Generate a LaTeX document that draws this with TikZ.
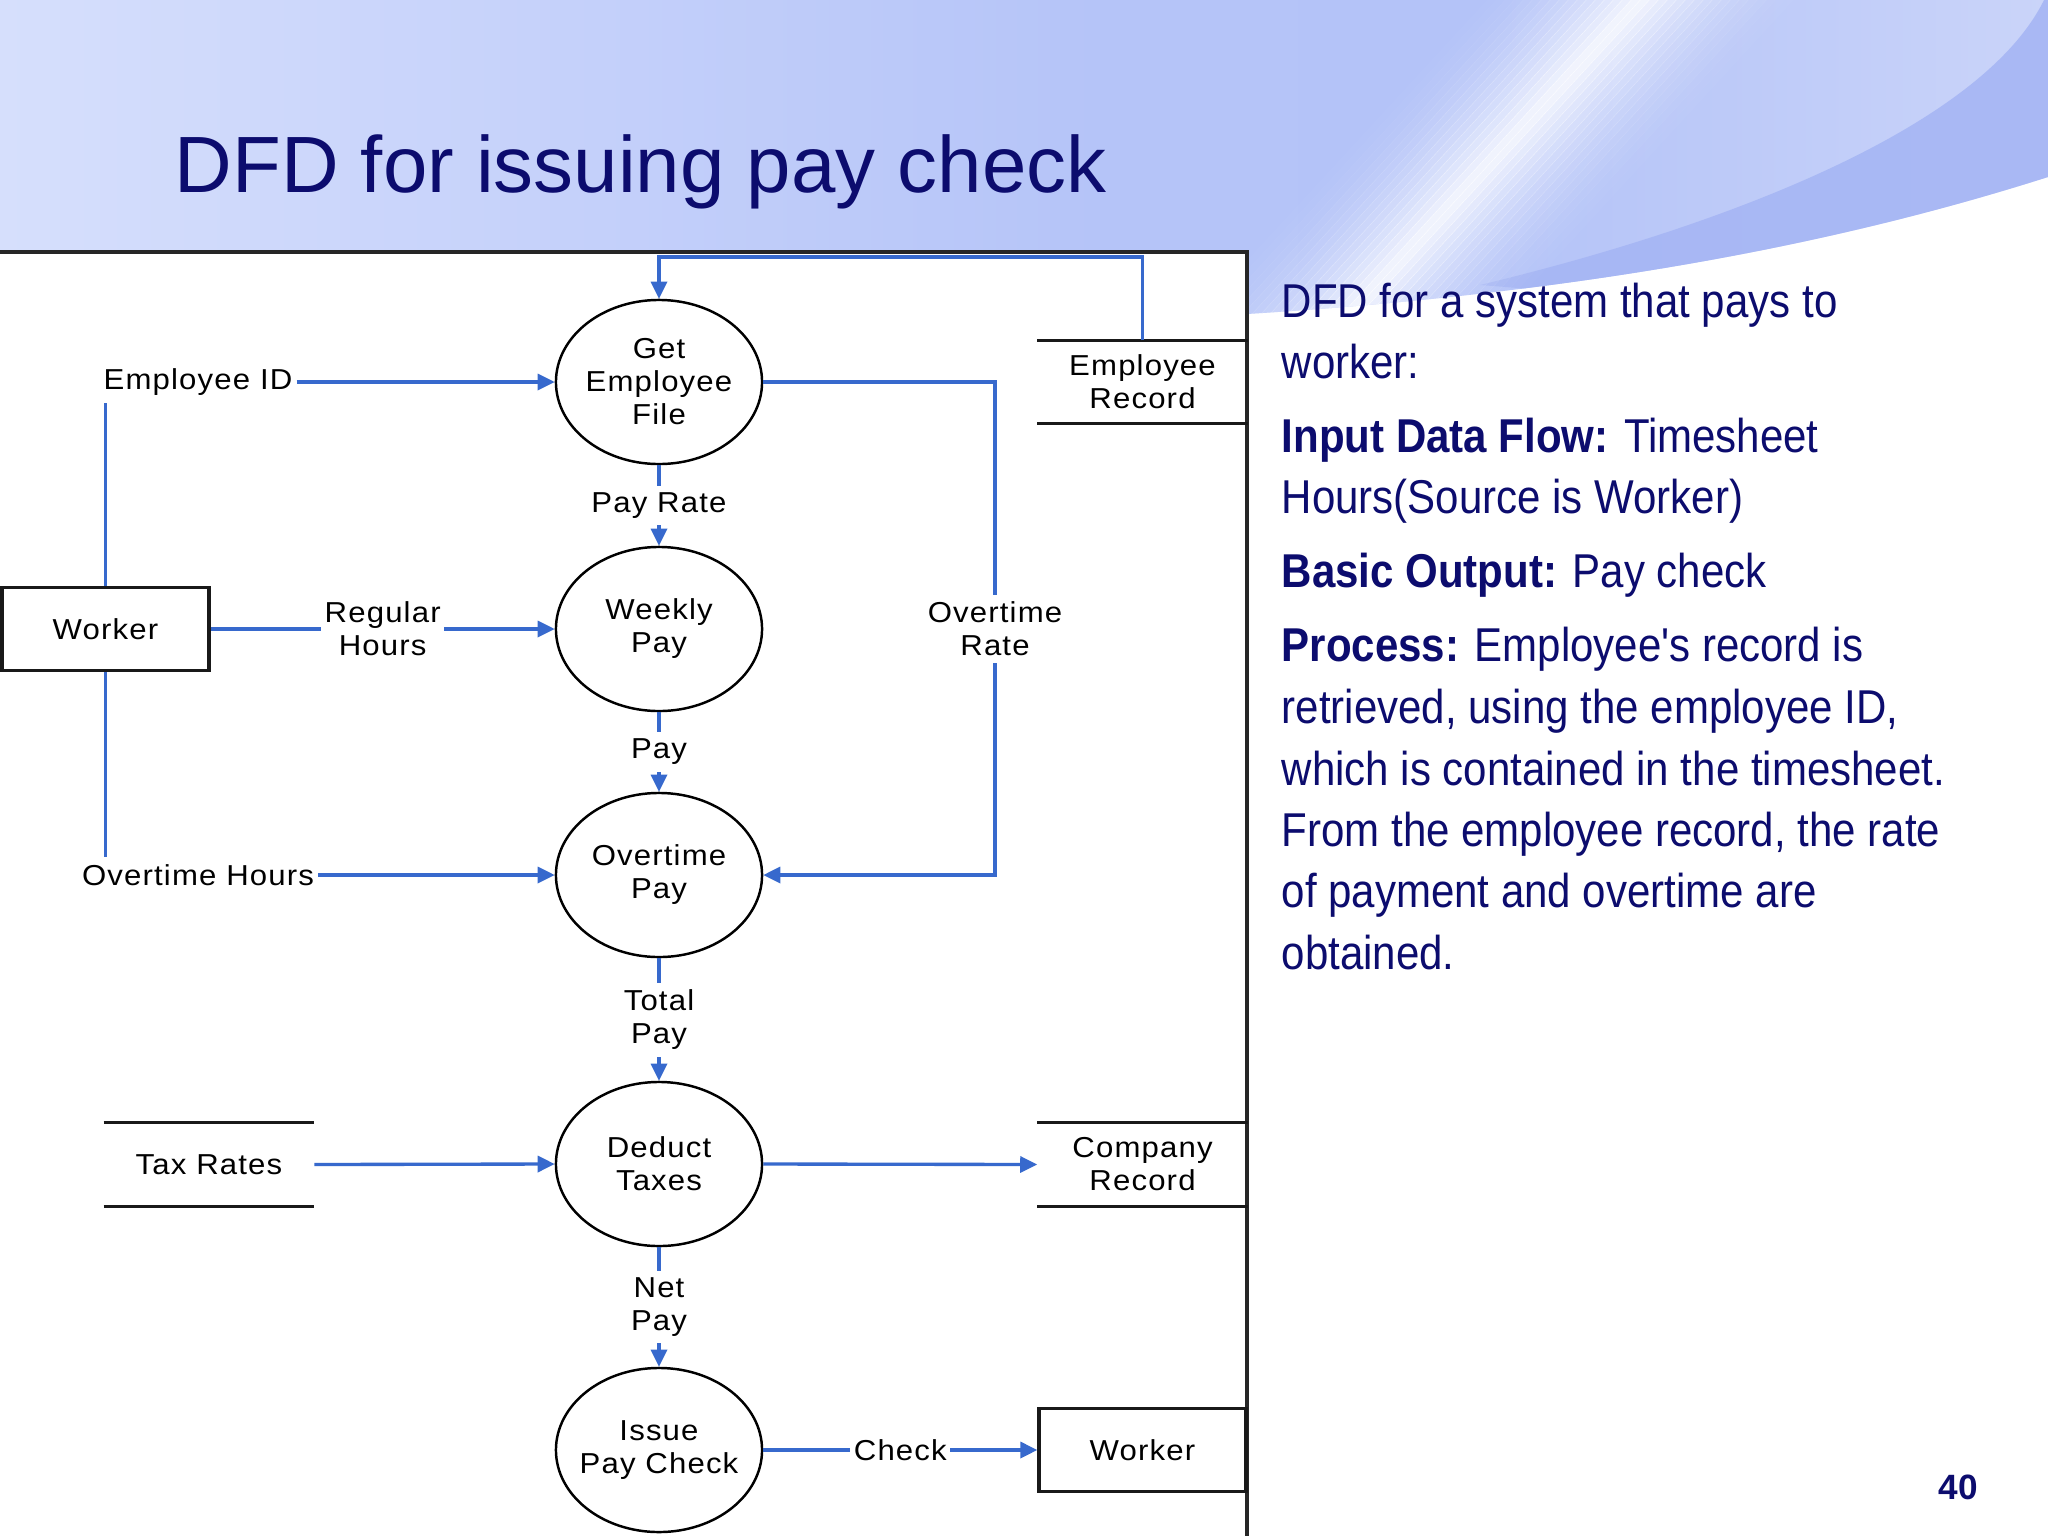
\documentclass[tikz,border=0pt]{standalone}
\usepackage{fontspec}
\usetikzlibrary{shapes.geometric,arrows.meta}
\newfontfamily\dfdfam[FakeStretch=1.08,LetterSpace=4]{Liberation Sans}
\newfontfamily\titlefam{Liberation Sans}
\newfontfamily\narrowfam[FakeStretch=0.885]{Liberation Sans}
\newcommand\dfdfont{\dfdfam\fontsize{8.2pt}{9.4pt}\selectfont}
\newcommand\sidefont{\narrowfam\fontsize{13.5pt}{17.4pt}\selectfont}
\definecolor{navy}{RGB}{12,12,110}
\definecolor{flowblue}{RGB}{55,105,205}
\definecolor{bA}{RGB}{214,223,252}
\definecolor{bB}{RGB}{196,208,250}
\definecolor{bC}{RGB}{181,196,248}
\definecolor{bD}{RGB}{180,195,248}
\definecolor{bE}{RGB}{202,212,249}
\definecolor{bF}{RGB}{166,182,244}
\tikzset{
  proc/.style={ellipse, draw=black, line width=0.7pt, minimum width=2.06cm, minimum height=1.64cm, inner sep=-12pt, align=center, font=\dfdfont},
  ext/.style={rectangle, draw=black!90, line width=0.9pt, minimum width=2.07cm, minimum height=0.83cm, inner sep=0pt, font=\dfdfont},
  store/.style={rectangle, minimum width=2.09cm, minimum height=0.82cm, inner sep=0pt, align=center, font=\dfdfont},
  storeline/.style={draw=black!90, line width=0.9pt},
  lbl/.style={fill=white, inner xsep=1pt, inner ysep=2pt, align=center, font=\dfdfont},
  dline/.style={draw=flowblue, line width=0.8pt},
  flow/.style={draw=flowblue, line width=0.95pt, -{Triangle[length=0.17cm,width=0.16cm]}},
  sideline/.style={anchor=base west, inner sep=0pt, text=navy, font=\sidefont},
}
\begin{document}
\begin{tikzpicture}[x=0.01cm, y=-0.01cm]
\useasboundingbox (0,0) rectangle (2048,1536);
\fill[white] (0,0) rectangle (2048,1536);
% title band background
\begin{scope}
  \clip (0,0) -- (2048,0) -- (2048,177) .. controls (1850,240) and (1600,292) .. (1247,314) -- (0,314) -- cycle;
  \shade[left color=bA, right color=bB] (0,0) rectangle (600,330);
  \shade[left color=bB, right color=bC] (599,0) rectangle (1100,330);
  \shade[left color=bC, right color=bD] (1099,0) rectangle (1500,330);
  \shade[left color=bD, right color=bE] (1499,0) rectangle (2048,330);
  % darker crescent along the lower edge
  \fill[bF, opacity=0.9] (1480,285) .. controls (1750,220) and (1985,120) .. (2044,0) -- (2048,0) -- (2048,330) -- cycle;
  % soft white streak
  \foreach \i in {-19,...,18} {
    \pgfmathsetmacro{\xo}{\i*9}
    \pgfmathsetmacro{\op}{0.85*(1-abs(\xo+4.5)/175)^2}
    \fill[white, opacity=\op] (1640+\xo,0) -- (1640+\xo+9.6,0) -- (1336+\xo+9.6,330) -- (1336+\xo,330) -- cycle;
  }
\end{scope}
% title
\node[anchor=base west, inner sep=0pt, text=navy, font=\titlefam\fontsize{22.7pt}{27pt}\selectfont] (title) at (174,192) {DFD for issuing pay check};
% diagram frame
\fill[white] (0,252) rectangle (1247,1536);
\draw[line width=0.9pt, black!85] (0,252) -- (1247,252) -- (1247,1536);
\coordinate (topy) at (0,257);
% processes
\node[proc] (p1) at (659,382) {Get\\Employee\\File};
\node[proc] (p2) at (659,629) {Weekly\\Pay};
\node[proc] (p3) at (659,875) {Overtime\\Pay};
\node[proc] (p4) at (659,1164) {Deduct\\Taxes};
\node[proc] (p5) at (659,1450) {Issue\\Pay Check};
% externals
\node[ext] (w1) at (105.5,629) {Worker};
\node[ext] (w2) at (1142.5,1450) {Worker};
% stores
\node[store] (er) at (1142.5,382) {Employee\\Record};
\draw[storeline] (er.north west) -- (er.north east) (er.south west) -- (er.south east);
\node[store] (tr) at (209,1164.5) {Tax Rates};
\draw[storeline] (tr.north west) -- (tr.north east) (tr.south west) -- (tr.south east);
\node[store] (cr) at (1142.5,1164.5) {Company\\Record};
\draw[storeline] (cr.north west) -- (cr.north east) (cr.south west) -- (cr.south east);
% free labels
\node[lbl] (eid) at (198,382) {Employee ID};
\node[lbl] (oth) at (198,875) {Overtime Hours};
% flows
\draw[flow] (er.north) -- (er.north |- topy) -| (p1.north);
\draw[flow] (eid.east) -- (p1.west);
\draw[dline] (w1.north) -- (w1.north |- eid.south);
\draw[dline] (w1.south) -- (w1.south |- oth.north);
\draw[flow] (oth.east) -- (p3.west);
\draw[flow] (w1.east) -- node[lbl] (rh) {Regular\\Hours} (p2.west);
\draw[flow] (p1.south) -- node[lbl] (pr) {Pay Rate} (p2.north);
\draw[flow] (p2.south) -- node[lbl] (pay) {Pay} (p3.north);
\draw[flow] (p3.south) -- node[lbl] (tp) {Total\\Pay} (p4.north);
\draw[flow] (p4.south) -- node[lbl] (np) {Net\\Pay} (p5.north);
\draw[flow] (tr.east) -- (p4.west);
\draw[flow] (p4.east) -- (cr.west);
\draw[flow] (p5.east) -- node[lbl] (chk) {Check} (w2.west);
\coordinate (otrx) at (995,629);
\draw[flow] (p1.east) -- (p1.east -| otrx) -- (p3.east -| otrx) -- (p3.east);
\node[lbl] (otr) at (otrx) {Overtime\\Rate};
% side text
\node[sideline] (r1) at (1281,317) {DFD for a system that pays to};
\node[sideline] (r2) at (1281,378) {worker:};
\node[sideline] (r3) at (1281,452) {\textbf{Input Data Flow:} Timesheet};
\node[sideline] (r4) at (1281,513) {Hours(Source is Worker)};
\node[sideline] (r5) at (1281,587) {\textbf{Basic Output:} Pay check};
\node[sideline] (r6) at (1281,661) {\textbf{Process:} Employee's record is};
\node[sideline] (r7) at (1281,723) {retrieved, using the employee ID,};
\node[sideline] (r8) at (1281,785) {which is contained in the timesheet.};
\node[sideline] (r9) at (1281,846) {From the employee record, the rate};
\node[sideline] (r10) at (1281,907) {of payment and overtime are};
\node[sideline] (r11) at (1281,969) {obtained.};
% page number
\node[anchor=base west, inner sep=0pt, text=navy, font=\titlefam\bfseries\fontsize{10pt}{12pt}\selectfont] (pg) at (1938,1499) {40};
\end{tikzpicture}
\end{document}
